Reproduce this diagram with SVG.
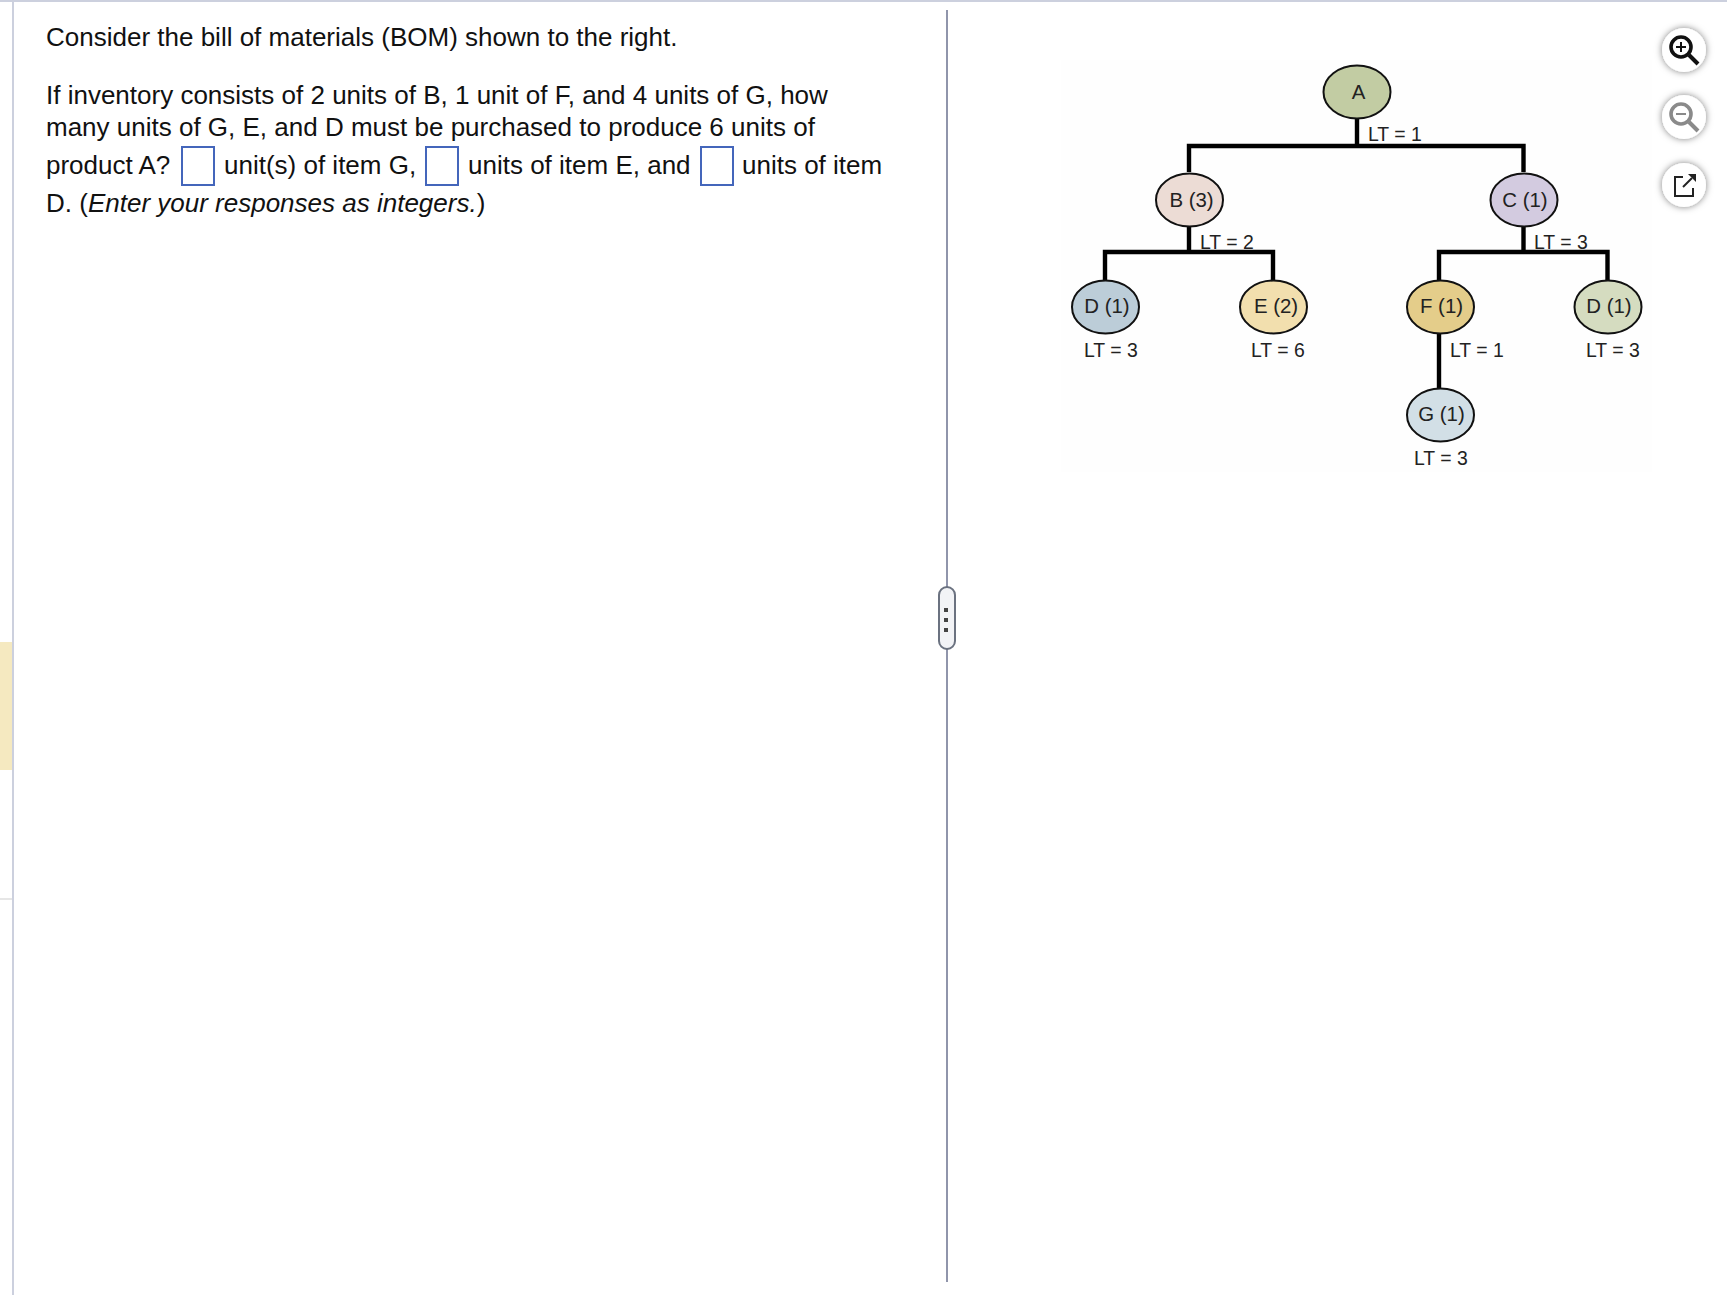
<svg xmlns="http://www.w3.org/2000/svg" width="1727" height="1295" viewBox="0 0 1727 1295">
<style>
text{font-family:"Liberation Sans",Arial,sans-serif}
.q{font-size:26px;fill:#111}
.n{font-size:20.4px;fill:#222;text-anchor:middle}
.lt{font-size:19.4px;fill:#222}
.node ellipse{stroke:#111;stroke-width:2}
.edge{fill:none;stroke:#000;stroke-width:4.4}
.box{fill:#fff;stroke:#4466bb;stroke-width:2}
.btn{fill:#fff;filter:url(#sh)}
</style>
<defs><filter id="sh" x="-40%" y="-40%" width="180%" height="180%"><feDropShadow dx="0" dy="0" stdDeviation="3.500" flood-color="#000" flood-opacity=".5"/></filter></defs>
<rect width="1727" height="1295" fill="#fff"/>
<g id="chrome">
<rect x="0" y="0" width="1727" height="2" fill="#ccd0de"/>
<rect x="12" y="0" width="2" height="1295" fill="#ccd0de"/>
<rect x="0" y="642" width="12" height="128" fill="#f5e9c0"/>
<rect x="0" y="898" width="12" height="2" fill="#e6e6e6"/>
<rect x="946" y="10" width="2" height="1272" fill="#9095ab"/>
<rect x="939" y="587" width="16" height="62" rx="8" fill="#f2f3f6" stroke="#6b7280" stroke-width="2"/>
<rect x="944" y="608" width="4" height="4" fill="#444"/><rect x="944" y="618" width="4" height="4" fill="#444"/><rect x="944" y="628" width="4" height="4" fill="#444"/>
</g>
<g id="question">
<text class="q" x="46" y="46">Consider the bill of materials (BOM) shown to the right.</text>
<text class="q" x="46" y="104">If inventory consists of 2 units of B, 1 unit of F, and 4 units of G, how</text>
<text class="q" x="46" y="136">many units of G, E, and D must be purchased to produce 6 units of</text>
<text class="q" x="46" y="174">product A?</text>
<rect class="box" x="182" y="147" width="32" height="38"/>
<text class="q" x="224" y="174">unit(s) of item G,</text>
<rect class="box" x="426" y="147" width="32" height="38"/>
<text class="q" x="468" y="174">units of item E, and</text>
<rect class="box" x="701" y="147" width="32" height="38"/>
<text class="q" x="742" y="174">units of item</text>
<text class="q" x="46" y="212">D. (<tspan font-style="italic">Enter your responses as integers.</tspan>)</text>
</g>
<rect x="1061" y="60" width="591" height="412" fill="#fefefe"/>
<g id="connectors">
<path class="edge" d="M1357 119V146M1189 172V146H1523.5V172"/>
<path class="edge" d="M1189 227V252M1105 280V252H1273V280"/>
<path class="edge" d="M1523.5 227V252M1439 280V252H1607.5V280"/>
<path class="edge" d="M1439 334V388"/>
</g>
<g id="node-A" class="node"><ellipse cx="1357" cy="92" rx="33.500" ry="26.500" fill="#c2cca3"/><text class="n" x="1358.500" y="98.500">A</text><text class="lt" x="1368" y="141">LT = 1</text></g>
<g id="node-B" class="node"><ellipse cx="1189.500" cy="200" rx="33.500" ry="26.500" fill="#ecdcd5"/><text class="n" x="1191.500" y="206.500">B (3)</text><text class="lt" x="1200" y="249">LT = 2</text></g>
<g id="node-C" class="node"><ellipse cx="1524" cy="200" rx="33.500" ry="26.500" fill="#d3cbe0"/><text class="n" x="1525" y="206.500">C (1)</text><text class="lt" x="1534" y="249">LT = 3</text></g>
<g id="node-D1" class="node"><ellipse cx="1105.500" cy="307" rx="33.500" ry="26.500" fill="#bccdd8"/><text class="n" x="1107" y="312.500">D (1)</text><text class="lt" x="1084" y="357">LT = 3</text></g>
<g id="node-E" class="node"><ellipse cx="1273.500" cy="307" rx="33.500" ry="26.500" fill="#f2dfae"/><text class="n" x="1276" y="312.500">E (2)</text><text class="lt" x="1251" y="357">LT = 6</text></g>
<g id="node-F" class="node"><ellipse cx="1440.500" cy="307" rx="33.500" ry="26.500" fill="#e4cd8a"/><text class="n" x="1441.500" y="312.500">F (1)</text><text class="lt" x="1450" y="357">LT = 1</text></g>
<g id="node-D2" class="node"><ellipse cx="1608" cy="307" rx="33.500" ry="26.500" fill="#d5dcc0"/><text class="n" x="1609" y="312.500">D (1)</text><text class="lt" x="1586" y="357">LT = 3</text></g>
<g id="node-G" class="node"><ellipse cx="1440.500" cy="415" rx="33.500" ry="26.500" fill="#d2dfe6"/><text class="n" x="1441.500" y="420.500">G (1)</text><text class="lt" x="1414" y="465">LT = 3</text></g>
<g id="tools" fill="none">
<circle class="btn" cx="1684" cy="50" r="22"/>
<g stroke="#111"><circle cx="1681" cy="47" r="10" stroke-width="3.600"/><path d="M1689 55L1698 64" stroke-width="4"/><path d="M1676 47H1686M1681 42V52" stroke-width="2"/></g>
<circle class="btn" cx="1684" cy="117" r="22"/>
<g stroke="#8a8a8a"><circle cx="1681" cy="114" r="10" stroke-width="3.600"/><path d="M1689 122L1698 131" stroke-width="4"/><path d="M1676 114H1686" stroke-width="2"/></g>
<circle class="btn" cx="1684" cy="185" r="22"/>
<g stroke="#222" stroke-width="2"><path d="M1683 177H1675V196H1693V188"/><path d="M1683 187L1692 178"/></g>
<path d="M1688 174H1696V182Z" fill="#222"/>
</g>
</svg>
